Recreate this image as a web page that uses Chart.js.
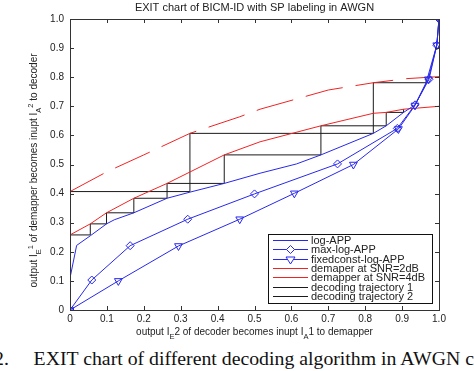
<!DOCTYPE html>
<html>
<head>
<meta charset="utf-8">
<script src="https://cdn.jsdelivr.net/npm/chart.js@4.4.0/dist/chart.umd.min.js"></script>
<style>
  body { margin: 0; background: #fff; overflow: hidden; }
  #wrap { position: absolute; left: 0; top: 0; width: 474px; height: 342px; }
  #caption { position: absolute; left: -6px; top: 348px; white-space: nowrap;
    font: 19.8px "Liberation Serif", "DejaVu Serif", serif; line-height: 20px; color: #111; }
</style>
</head>
<body>
<div id="wrap"><canvas id="exit-chart"></canvas></div>
<div id="caption">2.&nbsp;&nbsp;&nbsp;&nbsp;&nbsp;EXIT chart of different decoding algorithm in AWGN channel</div>
<script>
// values

const logAppX = [0, 0.018, 0.055, 0.099, 0.12, 0.173, 0.263, 0.325, 0.418, 0.515, 0.614, 0.68, 0.822, 0.857, 0.904, 0.935, 0.965, 0.994, 1];
const logAppY = [0.11, 0.222, 0.255, 0.296, 0.31, 0.334, 0.384, 0.405, 0.435, 0.47, 0.502, 0.533, 0.607, 0.633, 0.679, 0.705, 0.781, 0.91, 1];

const maxLogX = [0, 0.059, 0.163, 0.319, 0.5, 0.725, 0.887, 0.935, 0.973, 0.994, 1];
const maxLogY = [0, 0.103, 0.221, 0.312, 0.399, 0.502, 0.624, 0.705, 0.793, 0.91, 1];

const fixedX = [0, 0.131, 0.294, 0.46, 0.608, 0.768, 0.89, 0.935, 0.971, 0.994, 1];
const fixedY = [0, 0.1, 0.22, 0.312, 0.401, 0.5, 0.622, 0.703, 0.793, 0.91, 1];

const snr2X = [0, 0.1, 0.2, 0.325, 0.46, 0.515, 0.7, 0.822, 0.912, 1];
const snr2Y = [0.407, 0.475, 0.533, 0.607, 0.664, 0.69, 0.756, 0.781, 0.795, 0.802];

const snr4X = [0, 0.055, 0.099, 0.173, 0.263, 0.418, 0.515, 0.68, 0.822, 0.857, 0.904, 1];
const snr4Y = [0.258, 0.296, 0.334, 0.384, 0.435, 0.533, 0.578, 0.633, 0.676, 0.679, 0.69, 0.7];

const traj1X = [0, 0.325, 0.325, 0.822, 0.822, 0.965, 0.965];
const traj1Y = [0.407, 0.407, 0.607, 0.607, 0.781, 0.781, 0.796];

const traj2X = [0, 0.055, 0.055, 0.099, 0.099, 0.173, 0.173, 0.263, 0.263, 0.418, 0.418, 0.68, 0.68, 0.857, 0.857, 0.904, 0.904];
const traj2Y = [0.258, 0.258, 0.296, 0.296, 0.334, 0.334, 0.384, 0.384, 0.435, 0.435, 0.533, 0.533, 0.633, 0.633, 0.679, 0.679, 0.69];

const tickValues = [0, 0.1, 0.2, 0.3, 0.4, 0.5, 0.6, 0.7, 0.8, 0.9, 1];

const seriesNames = ['log-APP', 'max-log-APP', 'fixedconst-log-APP', 'demaper at SNR=2dB',
  'demapper at SNR=4dB', 'decoding trajectory 1', 'decoding trajectory 2'];

const blue = 'rgb(40,40,235)';
const red = 'rgb(240,35,35)';
const black = '#1a1a1a';

function pts(xs, ys) {
  return xs.map((x, i) => ({ x: x, y: ys[i] }));
}

function line(label, xs, ys, color, extra) {
  return Object.assign({
    label: label,
    data: pts(xs, ys),
    borderColor: color,
    backgroundColor: color,
    borderWidth: 1,
    pointRadius: 0,
    fill: false,
    tension: 0
  }, extra || {});
}

const datasets = [
  line(seriesNames[0], logAppX, logAppY, blue),
  line(seriesNames[1], maxLogX, maxLogY, blue, { pointStyle: 'rectRot', pointRadius: 4, pointBorderWidth: 1, pointBackgroundColor: 'rgba(0,0,0,0)' }),
  line(seriesNames[2], fixedX, fixedY, blue, { pointStyle: 'triangle', pointRadius: 4.5, pointRotation: 180, pointBorderWidth: 1, pointBackgroundColor: 'rgba(0,0,0,0)' }),
  line(seriesNames[3], snr2X, snr2Y, red, { borderDash: [38, 13] }),
  line(seriesNames[4], snr4X, snr4Y, red),
  line(seriesNames[5], traj1X, traj1Y, black),
  line(seriesNames[6], traj2X, traj2Y, black)
];

const tickFont = { family: 'Liberation Sans, Arial, sans-serif', size: 10 };

// draws text pieces with sub/superscripts, centred on (cx, cy)
function richText(ctx, parts, cx, cy, size) {
  const small = size * 0.75;
  let w = 0;
  parts.forEach(p => {
    ctx.font = (p.sub || p.sup ? small : size) + 'px "Liberation Sans", Arial, sans-serif';
    p.w = ctx.measureText(p.t).width;
    w += p.w;
  });
  let x = cx - w / 2;
  ctx.textAlign = 'left';
  ctx.textBaseline = 'middle';
  parts.forEach(p => {
    ctx.font = (p.sub || p.sup ? small : size) + 'px "Liberation Sans", Arial, sans-serif';
    let dy = p.sub ? size * 0.45 : (p.sup ? -size * 0.3 : 0);
    ctx.fillText(p.t, x, cy + dy);
    x += p.w;
  });
}

const framePlugin = {
  id: 'frame',
  afterDraw(chart) {
    const ctx = chart.ctx;
    const a = chart.chartArea;
    const xs = chart.scales.x, ys = chart.scales.y;
    ctx.save();
    ctx.strokeStyle = '#333';
    ctx.lineWidth = 1;
    ctx.strokeRect(a.left + 0.5, a.top + 0.5, a.right - a.left, a.bottom - a.top);
    // inward ticks on all four sides
    ctx.beginPath();
    tickValues.forEach(v => {
      const px = Math.round(xs.getPixelForValue(v)) + 0.5;
      ctx.moveTo(px, a.bottom); ctx.lineTo(px, a.bottom - 4);
      ctx.moveTo(px, a.top); ctx.lineTo(px, a.top + 4);
      const py = Math.round(ys.getPixelForValue(v)) + 0.5;
      ctx.moveTo(a.left, py); ctx.lineTo(a.left + 4, py);
      ctx.moveTo(a.right, py); ctx.lineTo(a.right - 4, py);
    });
    ctx.stroke();

    // title and axis titles
    ctx.fillStyle = '#222';
    ctx.font = '11px "Liberation Sans", Arial, sans-serif';
    ctx.textAlign = 'center';
    ctx.textBaseline = 'middle';
    ctx.fillText('EXIT chart of BICM-ID with SP labeling in AWGN', (a.left + a.right) / 2, 8);

    richText(ctx, [{ t: 'output I' }, { t: 'E', sub: true }, { t: '2 of decoder becomes inupt I' },
      { t: 'A', sub: true }, { t: '1 to demapper' }], (a.left + a.right) / 2, 332, 10);

    ctx.save();
    ctx.translate(34, (a.top + a.bottom) / 2 + 6);
    ctx.rotate(-Math.PI / 2);
    richText(ctx, [{ t: 'output I' }, { t: 'E', sub: true }, { t: '1', sup: true }, { t: ' of demapper becomes inupt I' },
      { t: 'A', sub: true }, { t: '2', sup: true }, { t: ' to decoder' }], 0, 0, 10);
    ctx.restore();

    // legend box
    const lx = 268, ly = 234, lw = 164, lh = 69;
    ctx.fillStyle = '#fff';
    ctx.fillRect(lx, ly, lw, lh);
    ctx.strokeStyle = '#111';
    ctx.strokeRect(lx + 0.5, ly + 0.5, lw, lh);
    chart.data.datasets.forEach((ds, i) => {
      const y = Math.round(ly + 6 + i * 9.35) + 0.5;
      ctx.strokeStyle = ds.borderColor;
      ctx.lineWidth = 1;
      ctx.setLineDash([]);
      ctx.beginPath();
      ctx.moveTo(273, y); ctx.lineTo(308, y);
      ctx.stroke();
      const mx = 290.5;
      if (ds.pointStyle === 'rectRot') {
        ctx.beginPath();
        ctx.moveTo(mx, y - 4); ctx.lineTo(mx + 4, y); ctx.lineTo(mx, y + 4); ctx.lineTo(mx - 4, y); ctx.closePath();
        ctx.fillStyle = '#fff'; ctx.fill(); ctx.stroke();
      } else if (ds.pointStyle === 'triangle') {
        ctx.beginPath();
        ctx.moveTo(mx - 4.5, y - 2.5); ctx.lineTo(mx + 4.5, y - 2.5); ctx.lineTo(mx, y + 4.5); ctx.closePath();
        ctx.fillStyle = '#fff'; ctx.fill(); ctx.stroke();
      }
      ctx.fillStyle = '#222';
      ctx.font = '11px "Liberation Sans", Arial, sans-serif';
      ctx.textAlign = 'left';
      ctx.textBaseline = 'middle';
      ctx.fillText(ds.label, 311, y);
    });
    ctx.restore();
  }
};

const exitCanvas = document.getElementById('exit-chart');

let exitChart = new Chart(exitCanvas, {
  type: 'line',
  data: { datasets: datasets },
  options: {
    responsive: true,
    maintainAspectRatio: false,
    devicePixelRatio: 1,
    animation: false,
    layout: { padding: { left: 0, right: 35, top: 19, bottom: 0 } },
    scales: {
      x: {
        type: 'linear', min: 0, max: 1,
        grid: { display: false, drawTicks: false },
        border: { display: false },
        afterFit: s => { s.height = 32; },
        afterBuildTicks: s => { s.ticks = tickValues.map(v => ({ value: v })); },
        ticks: { font: tickFont, color: '#222', padding: 3, maxRotation: 0, autoSkip: false }
      },
      y: {
        type: 'linear', min: 0, max: 1,
        grid: { display: false, drawTicks: false },
        border: { display: false },
        afterFit: s => { s.width = 70; },
        afterBuildTicks: s => { s.ticks = tickValues.map(v => ({ value: v })); },
        ticks: { font: tickFont, color: '#222', padding: 6, autoSkip: false }
      }
    },
    plugins: {
      legend: { display: false },
      title: { display: false },
      tooltip: { enabled: false }
    }
  },
  plugins: [framePlugin]
});
</script>
</body>
</html>
